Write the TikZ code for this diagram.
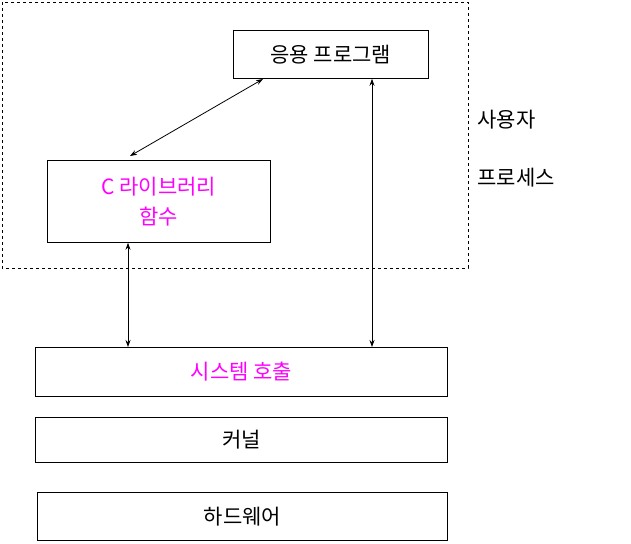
\documentclass[tikz,border=0pt]{standalone}
\usepackage{fontspec}
\usetikzlibrary{arrows.meta}
\setmainfont{Noto Sans CJK KR}
\definecolor{mag}{RGB}{255,0,255}
\begin{document}
\begin{tikzpicture}[x=1pt,y=-1pt,
 box/.style={draw,thick,inner sep=0,anchor=north west},
 lbl/.style={font=\fontsize{21}{30}\selectfont},
 arr/.style={<->,>={Stealth[length=7pt,width=5pt]},thick}]
\useasboundingbox (0,0) rectangle (631,543);
\draw[dashed] (2,2) rectangle (468,268);
\node[box,minimum width=195,minimum height=48] (app) at (233,30) {};
\node[lbl] at (app.center) {응용 프로그램};
\node[box,minimum width=223,minimum height=82] (lib) at (47,160) {};
\node[lbl,text=mag,align=center] at (lib.center) {C 라이브러리\\함수};
\node[lbl,anchor=west] (u1) at (474,120) {사용자};
\node[lbl,anchor=west] (u2) at (474,178) {프로세스};
\node[box,minimum width=412,minimum height=49] (sys) at (35,347) {};
\node[lbl,text=mag] at (sys.center) {시스템 호출};
\node[box,minimum width=412,minimum height=45] (ker) at (35,417) {};
\node[lbl] at (ker.center) {커널};
\node[box,minimum width=410,minimum height=48] (hw) at (37,492) {};
\node[lbl] at (hw.center) {하드웨어};
\coordinate (a1) at (263,79);
\coordinate (a2) at (130,156);
\draw[arr] (a1) -- (a2);
\draw[arr] (app.south -| 372,0) -- (sys.north -| 372,0);
\draw[arr] (lib.south -| 128,0) -- (sys.north -| 128,0);
\end{tikzpicture}
\end{document}
